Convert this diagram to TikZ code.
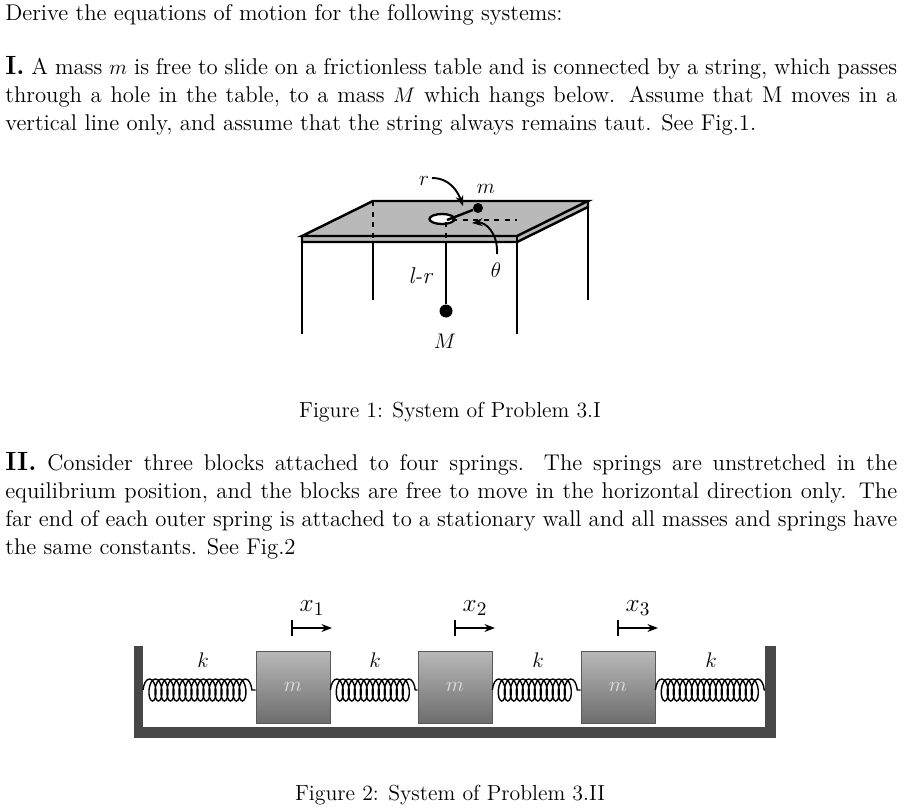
\documentclass[tikz,border=0pt]{standalone}
\usetikzlibrary{arrows.meta,decorations.pathmorphing,shapes.geometric}
\begin{document}
\begin{tikzpicture}[x=0.02cm,y=-0.02cm,
  para/.style={anchor=north west,inner sep=0pt,text width=17.84cm,align=justify,font=\fontsize{12.95}{15.9}\selectfont},
  figcap/.style={inner sep=0pt,font=\fontsize{12.4}{14}\selectfont},
  lbl/.style={inner sep=0pt,font=\fontsize{13}{15}\selectfont},
  edge/.style={line width=1.4pt},
  block/.style={draw=gray!70!black,top color=gray!55,bottom color=gray!85!black,minimum width=1.48cm,minimum height=1.44cm,inner sep=0pt,text=gray!25,font=\fontsize{13}{15}\selectfont},
  spring/.style={decorate,decoration={coil,aspect=0.45,amplitude=0.22cm,segment length=0.12cm},line width=0.8pt},
  disp/.style={-{Stealth[length=6pt]},line width=0.8pt}]
\useasboundingbox (0,0) rectangle (922,811);
% texts
\node[para] (t1) at (5,4) {Derive the equations of motion for the following systems:};
\node[para] (t2) at (5,56) {{\fontsize{15}{15}\selectfont\textbf{I.}} A mass $m$ is free to slide on a frictionless table and is connected by a string, which passes\linebreak through a hole in the table, to a mass $M$ which hangs below. Assume that M moves in a\linebreak vertical line only, and assume that the string always remains taut. See Fig.1.};
\node[para] (t3) at (5,452) {{\fontsize{15}{15}\selectfont\textbf{II.}} Consider three blocks attached to four springs. The springs are unstretched in the\linebreak equilibrium position, and the blocks are free to move in the horizontal direction only. The\linebreak far end of each outer spring is attached to a stationary wall and all masses and springs have\linebreak the same constants. See Fig.2};
\node[figcap] (c1) at (450,412) {Figure 1: System of Problem 3.I};
\node[figcap] (c2) at (450,795) {Figure 2: System of Problem 3.II};
% Fig 1 table
\coordinate (fl) at (302,236); \coordinate (fr) at (517,236);
\coordinate (br) at (588,201); \coordinate (bl) at (373,201);
\fill[gray!55] (fl) -- (fr) -- (br) -- (bl) -- cycle;
\fill[gray!55] (fl) -- (fr) -- (br) -- (588,207) -- (517,242) -- (302,242) -- cycle;
\draw[edge] (fl) -- (fr) -- (br) -- (bl) -- cycle;
\draw[edge] (fl) -- (302,242) -- (517,242) -- (588,207) -- (br);
\draw[edge] (fr) -- (517,242);
\draw[edge] (302,242) -- (302,334);
\draw[edge] (517,242) -- (517,334);
\draw[edge] (588,207) -- (588,300);
\draw[edge,dashed] (373,201) -- (373,240);
\draw[edge] (373,242) -- (373,300);
\node[draw,line width=1.3pt,ellipse,minimum width=0.5cm,minimum height=0.2cm,inner sep=0pt,fill=white] (hole) at (442,219) {};
\coordinate (hc) at (447,220);
\node[circle,fill=black,inner sep=0pt,minimum size=0.2cm] (mm) at (478,208) {};
\draw[edge] (hc) -- (mm);
\draw[edge,dashed] (452,220) -- (517,220);
\draw[edge,dashed] (446,222) -- (446,242);
\node[circle,fill=black,inner sep=0pt,minimum size=0.26cm] (MM) at (446,311) {};
\draw[edge] (446,242) -- (MM);
\node[lbl] (lr) at (424,181) {$r$};
\node[lbl] (lm) at (486,189) {$m$};
\node[lbl] (llr) at (421,276) {\textit{l-r}};
\node[lbl] (lth) at (496,270) {$\theta$};
\node[lbl] (lM) at (445,341) {$M$};
\draw[-{Stealth[length=6pt]},line width=1.1pt] (432,178) .. controls (450,178) and (458,192) .. (463,206);
\draw[-{Stealth[length=6pt]},line width=1.1pt] (497,254) .. controls (498,232) and (485,222) .. (472,223);
% Fig 2
\fill[gray!30!black!85] (134,646) rectangle (143,738);
\fill[gray!30!black!85] (765,646) rectangle (776,738);
\fill[gray!30!black!85] (134,727) rectangle (776,738);
\node[block] (b1) at (293,687) {$m$};
\node[block] (b2) at (455,687) {$m$};
\node[block] (b3) at (618,687) {$m$};
\coordinate (wl) at (143,690); \coordinate (wr) at (765,690);
\draw[spring] (wl) -- (b1.west|-wl);
\draw[spring] (b1.east|-wl) -- (b2.west|-wl);
\draw[spring] (b2.east|-wl) -- (b3.west|-wl);
\draw[spring] (b3.east|-wl) -- (wr);
\node[lbl] (k1) at (203,660) {$k$};
\node[lbl] (k2) at (375,660) {$k$};
\node[lbl] (k3) at (538,660) {$k$};
\node[lbl] (k4) at (711,660) {$k$};
\foreach \i/\x in {1/292,2/455,3/618}{
  \coordinate (s\i) at (\x,628);
  \coordinate (e\i) at (\x+40,628);
  \draw[disp] (s\i) -- (e\i);
  \draw[line width=0.8pt] (\x,620) -- (\x,636);
  \node[lbl,font=\fontsize{15}{16}\selectfont] (x\i) at (\x+20,608) {$x_{\i}$};
}
\end{tikzpicture}
\end{document}
